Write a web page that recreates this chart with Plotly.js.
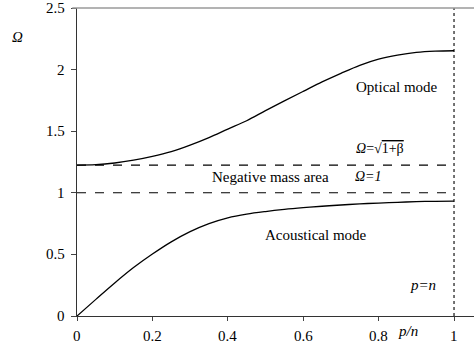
<!DOCTYPE html>
<html>
<head>
<meta charset="utf-8">
<script src="https://cdn.plot.ly/plotly-3.0.1.min.js"></script>
<style>html,body{margin:0;padding:0;background:#fff;}#chart{width:474px;height:357px;}</style>
</head>
<body>
<div id="chart"></div>
<script>
// data
const pn = [0,0.05,0.1,0.15,0.2,0.25,0.3,0.35,0.4,0.45,0.5,0.55,0.6,0.65,0.7,0.75,0.8,0.85,0.9,0.95,1];
const acoustical = [0,0.135,0.268,0.393,0.503,0.602,0.685,0.75,0.797,0.827,0.848,0.865,0.879,0.891,0.901,0.91,0.917,0.923,0.928,0.931,0.932];
const optical = [1.225,1.228,1.242,1.265,1.296,1.335,1.387,1.448,1.517,1.585,1.667,1.746,1.823,1.9,1.97,2.035,2.085,2.118,2.14,2.15,2.153];
const boundX = [0,1];
const upperBound = [1.225,1.225];   // Ω = sqrt(1+β)
const lowerBound = [1,1];           // Ω = 1
const edgeX = [1,1];
const edgeY = [0,2.5];
const xTicks = [0,0.2,0.4,0.6,0.8,1];
const yTicks = [0,0.5,1,1.5,2,2.5];

const FAM = 'Liberation Serif';

const traces = [
  {x:pn, y:acoustical, mode:'lines', line:{color:'#000', width:1.3, shape:'spline'}},
  {x:pn, y:optical, mode:'lines', line:{color:'#000', width:1.3, shape:'spline'}},
  {x:boundX, y:upperBound, mode:'lines', line:{color:'#000', width:1.1, dash:'dash'}},
  {x:boundX, y:lowerBound, mode:'lines', line:{color:'#000', width:1.1, dash:'dash'}},
  {x:edgeX, y:edgeY, mode:'lines', line:{color:'#000', width:1.1, dash:'dot'}}
];

function ann(text, x, y, size) {
  return {text:text, x:x, y:y, showarrow:false, font:{family:FAM, size:size}};
}

// tick labels drawn as annotations built from the tick arrays
const yTickLabels = yTicks.map(v => ({text:String(v), xref:'paper', x:0, y:v, xanchor:'right',
  xshift:-10, showarrow:false, font:{family:FAM, size:15}}));
const xTickLabels = xTicks.map(v => ({text:String(v), yref:'paper', y:0, x:v, yanchor:'top',
  yshift:-10, showarrow:false, font:{family:FAM, size:15}}));

const plotH = 357 - 8 - 41;
const plotW = 474 - 77;

const layout = {
  width:474, height:357,
  margin:{l:77, r:0, t:8, b:41},
  showlegend:false,
  font:{family:FAM, size:15, color:'#000'},
  xaxis:{range:[0,1.053], tickvals:xTicks, ticks:'outside', ticklen:4, showticklabels:false,
    showline:true, linecolor:'#333', showgrid:false, zeroline:false},
  yaxis:{range:[0,2.5], tickvals:yTicks, ticks:'outside', ticklen:5, showticklabels:false,
    showline:true, linecolor:'#333', showgrid:false, zeroline:false},
  shapes:[
    {type:'line', xref:'paper', yref:'paper', x0:-0.012, x1:1, y0:1, y1:1, line:{color:'#9a9a9a', width:1.5}}
  ],
  annotations:[
    ann('Optical mode', 0.849, 1.855, 15),
    ann("<i>Ω</i>=√<span style='text-decoration:overline'>1+β</span>", 0.804, 1.363, 14),
    ann('Negative mass area', 0.512, 1.129, 15),
    ann('<i>Ω=1</i>', 0.772, 1.129, 14),
    ann('Acoustical mode', 0.634, 0.661, 15),
    ann('<i>p=n</i>', 0.918, 0.25, 15),
    {text:'<i>p/n</i>', xref:'paper', yref:'paper', x:(420-77)/plotW, y:-(341-316)/plotH, showarrow:false, font:{family:FAM, size:15}},
    {text:'<i>Ω</i>', xref:'paper', yref:'paper', x:-(77-10)/plotW, y:(316-27)/plotH, showarrow:false, font:{family:FAM, size:15}}
  ].concat(yTickLabels, xTickLabels)
};

Plotly.newPlot('chart', traces, layout, {staticPlot:true});
</script>
</body>
</html>
